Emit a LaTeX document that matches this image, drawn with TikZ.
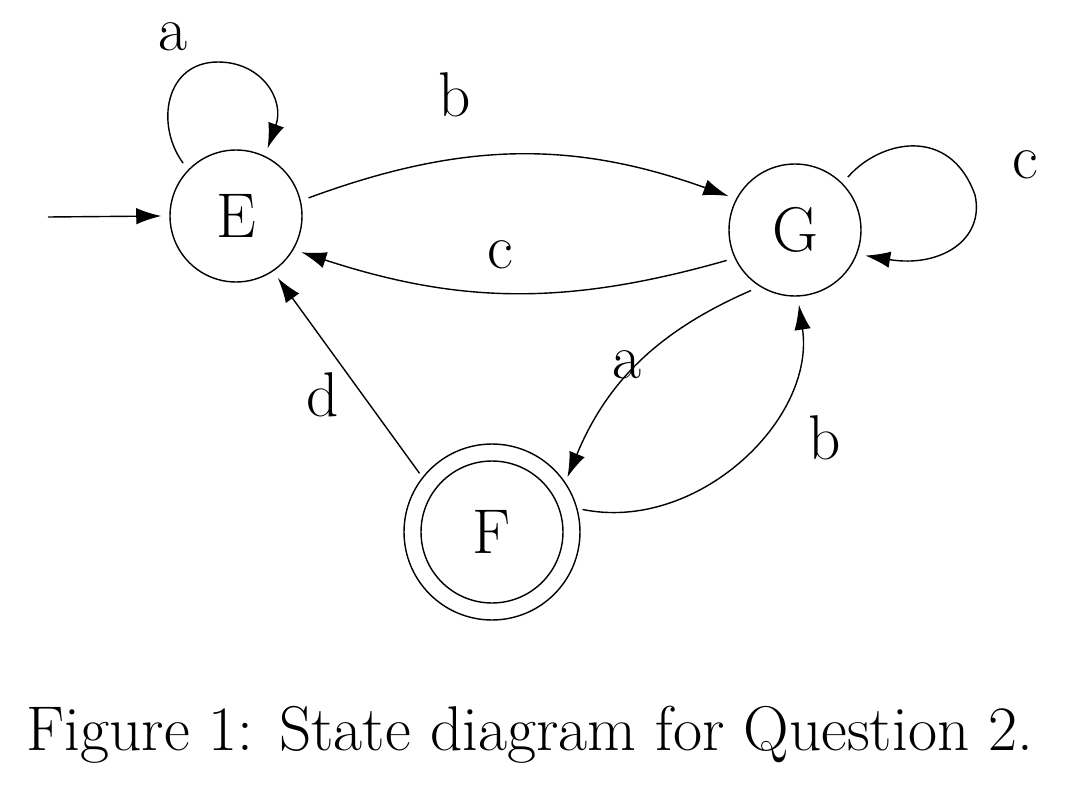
\documentclass[tikz,border=0pt]{standalone}
\usetikzlibrary{arrows.meta}
\begin{document}
\begin{tikzpicture}[x=0.02cm,y=-0.02cm,
  every node/.style={font=\fontsize{36}{40}\selectfont},
  state/.style={draw,circle,line width=0.8pt,minimum size=2.64cm,outer sep=5pt},
  tr/.style={line width=0.8pt,-{Latex[length=0.5cm,width=0.33cm]}}]
\useasboundingbox (0,0) rectangle (1073,801);
\node[state] (E) at (236,216) {E};
\node[state] (G) at (795,230) {G};
\node[state,minimum size=3.52cm,outer sep=3pt] (F) at (492,532) {F};
\draw[line width=0.8pt] (F.center) circle (1.42cm);
\coordinate (s) at (48,217);
\draw[tr] (s) -- (E.180);
\draw[tr] (E.135) .. controls (155,125) and (165,62) .. (218,62) .. controls (262,62) and (285,100) .. (E.65);
\draw[tr] (E.14) to[bend left=20] (G.153);
\draw[tr] (G.204) to[bend left=17] (E.-29);
\draw[tr] (G.45) .. controls (880,140) and (950,125) .. (975,195) .. controls (985,240) and (940,268) .. (G.-20);
\draw[tr] (G.234) to[bend right=22] (F.36);
\draw[tr] (F.14) to[bend right=55] (G.273);
\draw[tr] (F.141) -- (E.-56);
\node at (173,37) {a};
\node at (455,95) {b};
\node at (500,255) {c};
\node at (1025,165) {c};
\node at (627,365) {a};
\node at (825,438) {b};
\node at (323,395) {d};
\node at (530,735) {Figure 1: State diagram for Question 2.};
\end{tikzpicture}
\end{document}
